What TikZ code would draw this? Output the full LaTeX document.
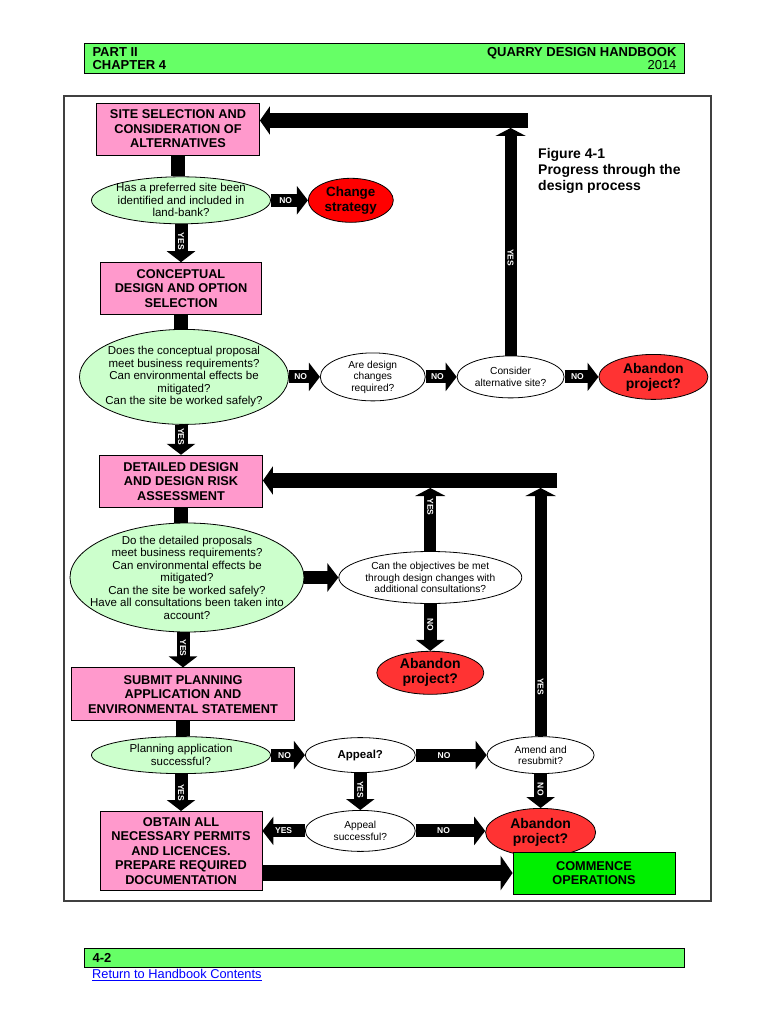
\documentclass[tikz,border=0pt]{standalone}
\usepackage{fontspec}
\setmainfont{Liberation Sans}
\usetikzlibrary{arrows.meta,calc,positioning,shapes.geometric}
\definecolor{Blush}{HTML}{FF99CC}
\definecolor{Mint}{HTML}{CCFFCC}
\definecolor{Scarlet}{HTML}{FF0000}
\definecolor{Tomato}{HTML}{FF3333}
\definecolor{GoGreen}{HTML}{00F000}
\definecolor{Band}{HTML}{66FF66}
\definecolor{Frame}{HTML}{404040}
\definecolor{Link}{HTML}{0000FF}
\newcommand\fsz[2]{\fontsize{#1}{#2}\selectfont}
\tikzset{
  stage/.style={
    draw=black, line width=0.8pt, fill=Blush, align=center,
    font=\fsz{12.75}{14.5}\bfseries, inner sep=2pt
  },
  query/.style={
    ellipse, draw=black, line width=0.8pt, fill=Mint, align=center,
    inner sep=-60pt, font=\fsz{11.5}{12.5}
  },
  probe/.style={query, fill=white, font=\fsz{10.2}{11.5}},
  stop/.style={query, fill=Tomato, font=\fsz{14}{15}\bfseries},
  flow/.style={-{Triangle[length=11pt,width=28pt]}, line width=13pt},
  joint/.style={line width=14pt},
  back/.style={-{Triangle[length=8pt,width=30pt]}, line width=12pt},
  tag/.style={text=white, font=\fsz{8.5}{9}\bfseries, inner sep=0pt, pos=0.45},
  band/.style={draw=black, line width=1pt, fill=Band, anchor=north west}
}
\begin{document}
\begin{tikzpicture}
  \fill[white] (0pt,0pt) rectangle (768pt,-1024pt);
  \useasboundingbox (0pt,0pt) rectangle (768pt,-1024pt);
  % page header and footer
  \node[band, minimum width=600pt, minimum height=30pt] (header) at (84pt,-43pt) {};
  \node[anchor=west, align=left, font=\fsz{13}{12.5}\bfseries] (part) at ([xshift=5pt]header.west) {PART II\\CHAPTER 4};
  \node[anchor=east, align=right, font=\fsz{13}{12.5}] (book) at ([xshift=-5pt]header.east) {\textbf{QUARRY DESIGN HANDBOOK}\\2014};
  \node[band, minimum width=600pt, minimum height=19pt] (footer) at (84pt,-948pt) {};
  \node[anchor=west, font=\fsz{13}{14}\bfseries] (page) at ([xshift=5pt]footer.west) {4-2};
  \node[anchor=west, text=Link, font=\fsz{12.8}{14}, inner sep=0pt] (contents) at (92pt,-975pt) {\underline{Return to Handbook Contents}};
  \draw[Frame, line width=1.5pt] (64pt,-96pt) rectangle (711pt,-901pt);
  \node[anchor=north west, align=left, font=\fsz{14}{16}\bfseries, inner sep=0pt] (caption) at (538pt,-148pt) {Figure 4-1\\Progress through the\\design process};

  % main column
  \node[stage, minimum width=163pt, minimum height=52pt] (site) at (178pt,-129pt)
    {SITE SELECTION AND\\CONSIDERATION OF\\ALTERNATIVES};
  \node[query, minimum width=179pt, minimum height=47pt, below=21pt of site, xshift=3pt] (landbank)
    {Has a preferred site been\\identified and included in\\land-bank?};
  \node[stop, fill=Scarlet, font=\fsz{13.4}{15}\bfseries, minimum width=85pt, minimum height=44pt, right=37pt of landbank] (change)
    {Change\\strategy};
  \node[stage, minimum width=161pt, minimum height=52pt, below=38pt of landbank] (concept)
    {CONCEPTUAL\\DESIGN AND OPTION\\SELECTION};
  \node[query, minimum width=209pt, minimum height=95pt, below=14pt of concept, xshift=3pt] (conform)
    {Does the conceptual proposal\\meet business requirements?\\Can environmental effects be\\mitigated?\\Can the site be worked safely?};
  \node[probe, minimum width=105pt, minimum height=48pt, right=31pt of conform] (redesign)
    {Are design\\changes\\required?};
  \node[probe, minimum width=107pt, minimum height=42pt, right=31pt of redesign] (relocate)
    {Consider\\alternative site?};
  \node[stop, minimum width=109pt, minimum height=45pt, right=34pt of relocate] (abandonA)
    {Abandon\\project?};
  \node[stage, minimum width=163pt, minimum height=52pt, below=30pt of conform, xshift=-3pt] (detail)
    {DETAILED DESIGN\\AND DESIGN RISK\\ASSESSMENT};
  \node[query, minimum width=234pt, minimum height=109pt, below=15pt of detail, xshift=6pt] (scrutiny)
    {Do the detailed proposals\\meet business requirements?\\Can environmental effects be\\mitigated?\\Can the site be worked safely?\\Have all consultations been taken into\\account?};
  \node[probe, minimum width=183pt, minimum height=52pt, right=34pt of scrutiny] (rethink)
    {Can the objectives be met\\through design changes with\\additional consultations?};
  \node[stop, minimum width=107pt, minimum height=43pt, below=47pt of rethink] (abandonB)
    {Abandon\\project?};
  \node[stage, minimum width=223pt, minimum height=53pt, below=35pt of scrutiny, xshift=-4pt] (submit)
    {SUBMIT PLANNING\\APPLICATION AND\\ENVIRONMENTAL STATEMENT};
  \node[query, minimum width=179pt, minimum height=37pt, below=15pt of submit, xshift=-2pt] (outcome)
    {Planning application\\successful?};
  \node[probe, font=\fsz{11.5}{13}\bfseries, minimum width=110pt, minimum height=35pt, right=34pt of outcome] (appeal)
    {Appeal?};
  \node[probe, minimum width=107pt, minimum height=37pt, right=71pt of appeal] (amend)
    {Amend and\\resubmit?};
  \node[stage, minimum width=162pt, minimum height=79pt, below=37pt of outcome] (permits)
    {OBTAIN ALL\\NECESSARY PERMITS\\AND LICENCES.\\PREPARE REQUIRED\\DOCUMENTATION};
  \node[probe, minimum width=110pt, minimum height=41pt, below=37pt of appeal] (verdict)
    {Appeal\\successful?};
  \node[stop, minimum width=110pt, minimum height=48pt, below=34pt of amend] (abandonC)
    {Abandon\\project?};
  \node[stage, fill=GoGreen, minimum width=162pt, minimum height=42pt] (commence) at (594pt,-873pt)
    {COMMENCE\\OPERATIONS};

  % ends of the feedback bars
  \coordinate (topbar) at (528pt,-120.5pt);
  \coordinate (topstop) at (0pt,-128pt);
  \coordinate (midbar) at (557pt,-480.5pt);
  \coordinate (midstop) at (0pt,-488pt);

  % connectors
  \draw[joint] (site.south) -- (site.south |- landbank.north);
  \draw[flow] (landbank.east) -- node[tag, pos=0.4] {NO} (change.west);
  \draw[flow] (landbank.south) -- node[tag, rotate=-90] {YES} (concept.north);
  \draw[joint] (concept.south) -- (concept.south |- conform.north);
  \draw[flow] (conform.east) -- node[tag, pos=0.38] {NO} (redesign.west);
  \draw[flow] (redesign.east) -- node[tag, pos=0.38] {NO} (relocate.west);
  \draw[flow] (relocate.east) -- node[tag, pos=0.38] {NO} (abandonA.west);
  \draw[flow, line width=15pt, -{Triangle[length=10pt,width=28pt]}] (topbar) -- (site.east |- topbar);
  \draw[back] (relocate.north) -- node[tag, rotate=-90, pos=0.43] {YES} (relocate.north |- topstop);
  \draw[flow] (detail.north |- conform.south) -- node[tag, rotate=-90, pos=0.4] {YES} (detail.north);
  \draw[joint] (detail.south) -- (detail.south |- scrutiny.north);
  \draw[flow] (scrutiny.east) -- (rethink.west);
  \draw[flow, line width=15pt, -{Triangle[length=10pt,width=28pt]}] (midbar) -- (detail.east |- midbar);
  \draw[back] (rethink.north) -- node[tag, rotate=-90, pos=0.7] {YES} (rethink.north |- midstop);
  \draw[flow] (rethink.south) -- node[tag, rotate=-90] {NO} (abandonB.north);
  \draw[back] (amend.north) -- node[tag, rotate=-90, pos=0.2] {YES} (amend.north |- midstop);
  \draw[flow] (submit.north |- scrutiny.south) -- node[tag, rotate=-90] {YES} (submit.north);
  \draw[joint] (submit.south) -- (submit.south |- outcome.north);
  \draw[flow] (outcome.east) -- node[tag, pos=0.4] {NO} (appeal.west);
  \draw[flow] (appeal.east) -- node[tag, pos=0.4] {NO} (amend.west);
  \draw[flow] (outcome.south) -- node[tag, rotate=-90, pos=0.5] {YES} (permits.north);
  \draw[flow] (appeal.south) -- node[tag, rotate=-90] {YES} (verdict.north);
  \draw[flow] (amend.south) -- node[tag, rotate=-90] {NO} (abandonC.north);
  \draw[flow] (verdict.west) -- node[tag, pos=0.5] {YES} (verdict.west -| permits.east);
  \draw[flow] (verdict.east) -- node[tag, pos=0.4] {NO} (verdict.east -| abandonC.west);
  \draw[flow, line width=16pt, -{Triangle[length=12pt,width=34pt]}] (permits.east |- commence) -- (commence.west);
\end{tikzpicture}
\end{document}
